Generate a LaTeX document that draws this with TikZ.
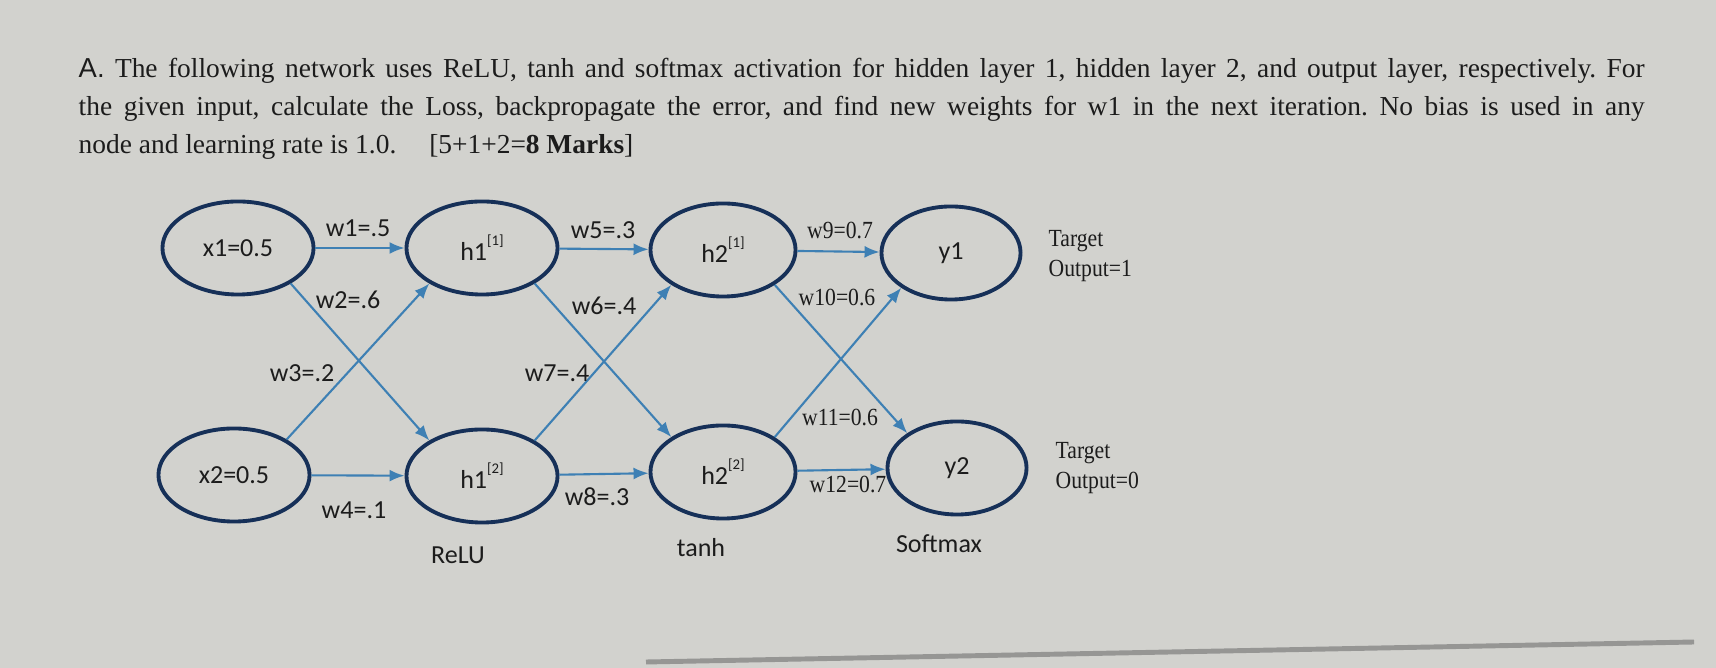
\documentclass[tikz,border=0pt]{standalone}
\usepackage{fontspec}
\setmainfont{Liberation Serif}
\newfontfamily\calfont{Carlito}
\newfontfamily\arialfont{Liberation Sans}
\newfontfamily\condserif{Liberation Serif}[FakeStretch=0.88]
\usetikzlibrary{shapes.geometric,arrows.meta}
\definecolor{ringblue}{RGB}{22,48,88}
\definecolor{wireblue}{RGB}{62,128,180}
\definecolor{paper}{RGB}{210,210,206}
\definecolor{inkgray}{RGB}{28,28,28}
\definecolor{bezel}{RGB}{150,150,148}
\tikzset{
	unit/.style={draw=ringblue, line width=1.1pt, ellipse, minimum width=1.51cm, minimum height=0.93cm, inner sep=0pt, font=\calfont\fontsize{7.4}{8}\selectfont, text=inkgray},
	wire/.style={draw=wireblue, line width=0.6pt, -{Latex[length=1.5mm,width=1.2mm]}},
	wlab/.style={font=\calfont\fontsize{7.4}{8}\selectfont, text=inkgray, inner sep=0pt},
	slab/.style={font=\condserif\fontsize{7}{8.5}\selectfont, text=inkgray, inner sep=0pt},
}
\newcommand{\upidx}[1]{\raisebox{1.2ex}{\fontsize{4.2}{5}\selectfont[#1]}}
\frenchspacing

\begin{document}
\begin{tikzpicture}[x=0.01cm, y=-0.01cm]
	\fill[paper] (0,0) rectangle (1716,668);
	\useasboundingbox (0,0) rectangle (1716,668);

	% question text
	\node[anchor=north west, text width=15.65cm, align=justify, inner sep=0pt, font=\fontsize{7.8}{10.7}\selectfont, text=inkgray] (task) at (78,58) {\hangindent=0.3cm \hangafter=1 {\arialfont A.} The following network uses ReLU, tanh and softmax activation for hidden layer 1, hidden layer 2, and output layer, respectively. For\linebreak the given input, calculate the Loss, backpropagate the error, and find new weights for w1 in the next iteration. No bias is used in any\linebreak node and learning rate is 1.0.\hspace{1.2em}[5+1+2=\textbf{8 Marks}]};

	\node[unit] (x1) at (238,248) {x1=0.5};
	\node[unit] (x2) at (234,475) {x2=0.5};
	\node[unit] (h1a) at (482,248) {h1\upidx{1}};
	\node[unit] (h1b) at (482,476) {h1\upidx{2}};
	\node[unit, minimum width=1.45cm] (h2a) at (723,250) {h2\upidx{1}};
	\node[unit, minimum width=1.45cm] (h2b) at (723,472) {h2\upidx{2}};
	\node[unit, minimum width=1.39cm] (y1) at (951,253) {y1};
	\node[unit, minimum width=1.39cm] (y2) at (957,468) {y2};

	\draw[wire] (x1) -- (h1a);
	\draw[wire] (x1.-34) -- (h1b.146);
	\draw[wire] (x2.34) -- (h1a.214);
	\draw[wire] (x2) -- (h1b);
	\draw[wire] (h1a) -- (h2a);
	\draw[wire] (h1a.-34) -- (h2b.146);
	\draw[wire] (h1b.34) -- (h2a.214);
	\draw[wire] (h1b) -- (h2b);
	\draw[wire] (h2a) -- (y1);
	\draw[wire] (h2a.-34) -- (y2.145);
	\draw[wire] (h2b.34) -- (y1.215);
	\draw[wire] (h2b) -- (y2);

	\node[wlab] (lw1) at (358,228) {w1=.5};
	\node[wlab] (lw2) at (348,300) {w2=.6};
	\node[wlab] (lw3) at (302,373) {w3=.2};
	\node[wlab] (lw4) at (354,510) {w4=.1};
	\node[wlab] (lw5) at (603,230) {w5=.3};
	\node[wlab] (lw6) at (604,306) {w6=.4};
	\node[wlab] (lw7) at (557,373) {w7=.4};
	\node[wlab] (lw8) at (597,497) {w8=.3};
	\node[slab] (lw9) at (840,231) {w9=0.7};
	\node[slab] (lw10) at (837,298) {w10=0.6};
	\node[slab] (lw11) at (840,417) {w11=0.6};
	\node[slab] (lw12) at (848,484) {w12=0.7};

	\node[wlab] (relu) at (458,555) {ReLU};
	\node[wlab] (tanh) at (701,548) {tanh};
	\node[wlab] (smax) at (939,544) {Softmax};

	\node[slab, anchor=west, align=left] (tgt1) at (1048,256) {Target\\Output=1};
	\node[slab, anchor=west, align=left] (tgt2) at (1055,468) {Target\\Output=0};

	% screen edge
	\draw[bezel, line width=1.4pt] (646,662) -- (1694,642);
\end{tikzpicture}
\end{document}
